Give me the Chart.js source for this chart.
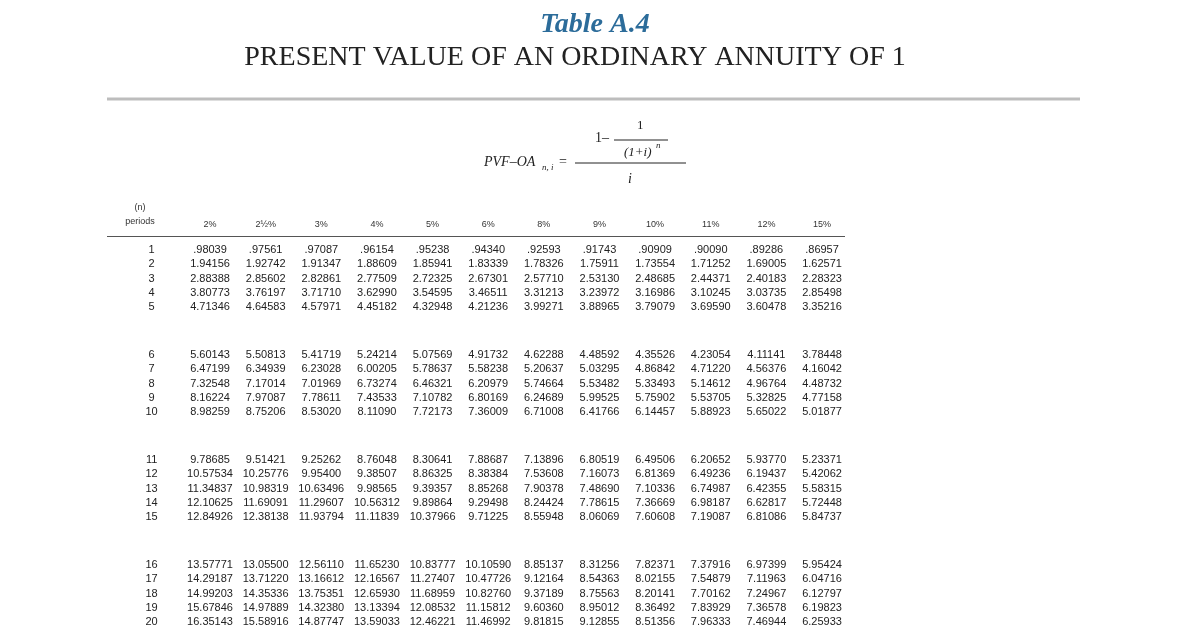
<!DOCTYPE html>
<html>
<head>
<meta charset="utf-8">
<style>
  html, body { margin: 0; padding: 0; background: #fff; }
  #wrap { position: absolute; left: 0; top: 0; width: 1189px; height: 642px; }
</style>
<script src="https://cdn.jsdelivr.net/npm/chart.js@4/dist/chart.umd.min.js"></script>
</head>
<body>
<div id="wrap"><canvas id="table-chart"></canvas></div>
<script>
const rateLabels = ["2%", "2½%", "3%", "4%", "5%", "6%", "8%", "9%", "10%", "11%", "12%", "15%"];
const periods = [1, 2, 3, 4, 5, 6, 7, 8, 9, 10, 11, 12, 13, 14, 15, 16, 17, 18, 19, 20];

const rate2 = [.98039, 1.94156, 2.88388, 3.80773, 4.71346, 5.60143, 6.47199, 7.32548, 8.16224, 8.98259, 9.78685, 10.57534, 11.34837, 12.10625, 12.84926, 13.57771, 14.29187, 14.99203, 15.67846, 16.35143];
const rate2half = [.97561, 1.92742, 2.85602, 3.76197, 4.64583, 5.50813, 6.34939, 7.17014, 7.97087, 8.75206, 9.51421, 10.25776, 10.98319, 11.69091, 12.38138, 13.05500, 13.71220, 14.35336, 14.97889, 15.58916];
const rate3 = [.97087, 1.91347, 2.82861, 3.71710, 4.57971, 5.41719, 6.23028, 7.01969, 7.78611, 8.53020, 9.25262, 9.95400, 10.63496, 11.29607, 11.93794, 12.56110, 13.16612, 13.75351, 14.32380, 14.87747];
const rate4 = [.96154, 1.88609, 2.77509, 3.62990, 4.45182, 5.24214, 6.00205, 6.73274, 7.43533, 8.11090, 8.76048, 9.38507, 9.98565, 10.56312, 11.11839, 11.65230, 12.16567, 12.65930, 13.13394, 13.59033];
const rate5 = [.95238, 1.85941, 2.72325, 3.54595, 4.32948, 5.07569, 5.78637, 6.46321, 7.10782, 7.72173, 8.30641, 8.86325, 9.39357, 9.89864, 10.37966, 10.83777, 11.27407, 11.68959, 12.08532, 12.46221];
const rate6 = [.94340, 1.83339, 2.67301, 3.46511, 4.21236, 4.91732, 5.58238, 6.20979, 6.80169, 7.36009, 7.88687, 8.38384, 8.85268, 9.29498, 9.71225, 10.10590, 10.47726, 10.82760, 11.15812, 11.46992];
const rate8 = [.92593, 1.78326, 2.57710, 3.31213, 3.99271, 4.62288, 5.20637, 5.74664, 6.24689, 6.71008, 7.13896, 7.53608, 7.90378, 8.24424, 8.55948, 8.85137, 9.12164, 9.37189, 9.60360, 9.81815];
const rate9 = [.91743, 1.75911, 2.53130, 3.23972, 3.88965, 4.48592, 5.03295, 5.53482, 5.99525, 6.41766, 6.80519, 7.16073, 7.48690, 7.78615, 8.06069, 8.31256, 8.54363, 8.75563, 8.95012, 9.12855];
const rate10 = [.90909, 1.73554, 2.48685, 3.16986, 3.79079, 4.35526, 4.86842, 5.33493, 5.75902, 6.14457, 6.49506, 6.81369, 7.10336, 7.36669, 7.60608, 7.82371, 8.02155, 8.20141, 8.36492, 8.51356];
const rate11 = [.90090, 1.71252, 2.44371, 3.10245, 3.69590, 4.23054, 4.71220, 5.14612, 5.53705, 5.88923, 6.20652, 6.49236, 6.74987, 6.98187, 7.19087, 7.37916, 7.54879, 7.70162, 7.83929, 7.96333];
const rate12 = [.89286, 1.69005, 2.40183, 3.03735, 3.60478, 4.11141, 4.56376, 4.96764, 5.32825, 5.65022, 5.93770, 6.19437, 6.42355, 6.62817, 6.81086, 6.97399, 7.11963, 7.24967, 7.36578, 7.46944];
const rate15 = [.86957, 1.62571, 2.28323, 2.85498, 3.35216, 3.78448, 4.16042, 4.48732, 4.77158, 5.01877, 5.23371, 5.42062, 5.58315, 5.72448, 5.84737, 5.95424, 6.04716, 6.12797, 6.19823, 6.25933];

const columns = [rate2, rate2half, rate3, rate4, rate5, rate6, rate8, rate9, rate10, rate11, rate12, rate15];

// rows come in groups of five with a wider gap between groups
const groupGap = 2.34;
const rowPos = (n) => n + Math.floor((n - 1) / 5) * groupGap;
const fmt = (v) => v < 1 ? v.toFixed(5).slice(1) : v.toFixed(5);

const cells = [];
columns.forEach((col, c) => col.forEach((v, r) => cells.push({ x: c, y: rowPos(periods[r]), text: fmt(v) })));
const headCells = rateLabels.map((label, c) => ({ x: c, y: rowPos(1) - 1.75, text: label }));
const periodCells = periods.map((p) => ({ x: -1.05, y: rowPos(p), text: String(p) }));

const tablePlugin = {
    id: "tableText",
    afterDatasetsDraw(chart) {
        const ctx = chart.ctx;
        ctx.save();
        ctx.textBaseline = "middle";
        ctx.textAlign = "center";
        chart.data.datasets.forEach((ds, di) => {
            const meta = chart.getDatasetMeta(di);
            ctx.fillStyle = ds.textColor;
            ctx.font = ds.textFont;
            meta.data.forEach((pt, i) => ctx.fillText(ds.data[i].text, pt.x, pt.y));
        });

        // titles
        ctx.fillStyle = "#2c6c9a";
        ctx.font = "italic bold 28px 'Liberation Serif', 'DejaVu Serif', serif";
        ctx.fillText("Table A.4", 595, 25);
        ctx.fillStyle = "#222";
        ctx.font = "28px 'Liberation Serif', 'DejaVu Serif', serif";
        ctx.fillText("PRESENT VALUE OF AN ORDINARY ANNUITY OF 1", 575, 58);

        ctx.strokeStyle = "#bdbdbd";
        ctx.lineWidth = 3;
        ctx.beginPath(); ctx.moveTo(107, 99); ctx.lineTo(1080, 99); ctx.stroke();

        // formula
        ctx.fillStyle = "#222";
        ctx.strokeStyle = "#222";
        ctx.lineWidth = 1;
        ctx.font = "italic 14px 'Liberation Serif', serif";
        ctx.textAlign = "left";
        ctx.fillText("PVF–OA", 484, 162);
        ctx.font = "italic 9px 'Liberation Serif', serif";
        ctx.fillText("n, i", 542, 168);
        ctx.font = "14px 'Liberation Serif', serif";
        ctx.fillText("=", 559, 162);
        ctx.fillText("1–", 595, 138);
        ctx.beginPath(); ctx.moveTo(575, 163); ctx.lineTo(686, 163); ctx.stroke();
        ctx.beginPath(); ctx.moveTo(614, 140); ctx.lineTo(668, 140); ctx.stroke();
        ctx.font = "13px 'Liberation Serif', serif";
        ctx.fillText("1", 637, 126);
        ctx.font = "italic 13px 'Liberation Serif', serif";
        ctx.fillText("(1+i)", 624, 153);
        ctx.font = "italic 9px 'Liberation Serif', serif";
        ctx.fillText("n", 656, 146);
        ctx.font = "italic 14px 'Liberation Serif', serif";
        ctx.fillText("i", 628, 179);

        // header
        ctx.textAlign = "center";
        ctx.font = "9px 'Liberation Sans', Arial, sans-serif";
        ctx.fillStyle = "#333";
        ctx.fillText("(n)", 140, 208);
        ctx.fillText("periods", 140, 222);
        ctx.strokeStyle = "#555";
        ctx.beginPath(); ctx.moveTo(107, 236.5); ctx.lineTo(845, 236.5); ctx.stroke();
        ctx.restore();
    }
};

new Chart(document.getElementById("table-chart"), {
    type: "scatter",
    data: {
        datasets: [
            { data: cells, pointRadius: 0, textColor: "#222", textFont: "11px 'Liberation Sans', Arial, sans-serif" },
            { data: headCells, pointRadius: 0, textColor: "#333", textFont: "9px 'Liberation Sans', Arial, sans-serif" },
            { data: periodCells, pointRadius: 0, textColor: "#222", textFont: "11px 'Liberation Sans', Arial, sans-serif" }
        ]
    },
    options: {
        responsive: true,
        maintainAspectRatio: false,
        animation: false,
        layout: { padding: 0 },
        plugins: { legend: { display: false }, tooltip: { enabled: false } },
        scales: {
            x: { type: "linear", display: false, min: -3.775, max: 17.596 },
            y: { type: "linear", display: false, reverse: true, min: -16.483, max: 28.412 }
        }
    },
    plugins: [tablePlugin]
});
</script>
</body>
</html>
